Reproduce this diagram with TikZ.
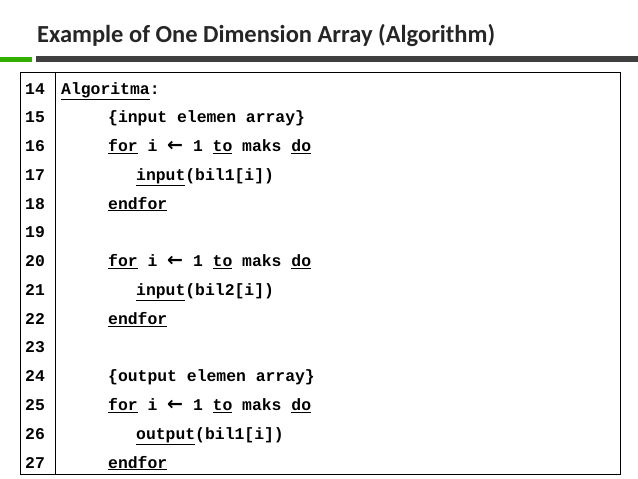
\documentclass[tikz,border=0pt]{standalone}
\usepackage{fontspec}
\setmainfont{Carlito}
\setmonofont{Liberation Mono}
\newfontfamily\arrowfont{DejaVu Sans}
\newcommand{\kw}[1]{\underline{#1}}
\newcommand{\larr}{{\arrowfont\bfseries\fontsize{19}{18}\selectfont ←}}
\newcommand{\inda}{\hspace*{47pt}}
\newcommand{\indb}{\hspace*{75pt}}
\begin{document}
\begin{tikzpicture}[x=1pt,y=-1pt,
    codeline/.style={anchor=base west,inner sep=0pt,font=\ttfamily\bfseries\fontsize{16.4}{18}\selectfont},
    lineno/.style={codeline}]
\useasboundingbox (0,0) rectangle (638,479);
\node[anchor=base west,inner sep=0pt,font=\bfseries\fontsize{24.5}{28}\selectfont,text=black!85] (title) at (37,42) {Example of One Dimension Array (Algorithm)};
\fill[green!60!black!80!yellow] (0,57) rectangle (32,62);
\fill[black!75] (36,56) rectangle (638,62);
% table frame
\draw[line width=0.9pt] (20,72) rectangle (620,474);
\draw[line width=0.9pt] (55,72) -- (55,474);
% line numbers and code
\foreach \n/\txt [count=\k from 0] in {14/\kw{Algoritma}:,
    15/\inda\{input elemen array\},
    16/\inda\kw{for} i \larr{} 1 \kw{to} maks \kw{do},
    17/\indb\kw{input}(bil1[i]),
    18/\inda\kw{endfor},
    19/,
    20/\inda\kw{for} i \larr{} 1 \kw{to} maks \kw{do},
    21/\indb\kw{input}(bil2[i]),
    22/\inda\kw{endfor},
    23/,
    24/\inda\{output elemen array\},
    25/\inda\kw{for} i \larr{} 1 \kw{to} maks \kw{do},
    26/\indb\kw{output}(bil1[i]),
    27/\inda\kw{endfor}}
{
  \node[lineno] (n\n) at (25,{94+\k*28.77}) {\n};
  \node[codeline] (c\n) at (61,{94+\k*28.77}) {\txt};
}
\end{tikzpicture}
\end{document}
